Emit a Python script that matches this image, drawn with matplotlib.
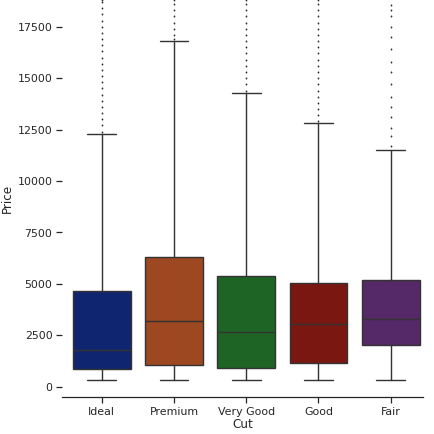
import matplotlib
matplotlib.use("Agg")
import matplotlib.pyplot as plt
import seaborn as sns

cuts = ["Ideal", "Premium", "Very Good", "Good", "Fair"]
whislo = [326, 326, 336, 327, 337]
q1 = [878, 1046, 912, 1145, 2050]
med = [1810, 3185, 2648, 3050, 3282]
q3 = [4678, 6296, 5373, 5028, 5206]
whishi = [12300, 16800, 14300, 12800, 11500]
outliers = [
    [12400, 12700, 13000, 13300, 13600, 13900, 14200, 14500, 14800, 15100, 15400, 15700, 16000, 16300, 16600, 16900, 17200, 17500, 17800, 18100, 18400, 18700, 18800],
    [16900, 17100, 17400, 17700, 18000, 18300, 18600, 18800],
    [14400, 14700, 15000, 15300, 15600, 15900, 16200, 16500, 16800, 17100, 17400, 17700, 18000, 18300, 18600, 18800],
    [12900, 13200, 13500, 13800, 14100, 14400, 14700, 15000, 15300, 15600, 15900, 16200, 16500, 16800, 17100, 17400, 17700, 18000, 18300, 18600, 18800],
    [11700, 12200, 12600, 13100, 13600, 14100, 14700, 15300, 15800, 16400, 17000, 17500, 18000, 18300, 18574],
]

sns.set_theme(style="ticks")
colors = sns.color_palette("dark", desat=0.75)
fig, ax = plt.subplots(figsize=(6, 6), dpi=72.34)
stats = [dict(label=c, whislo=a, q1=b, med=m, q3=d, whishi=e, fliers=f)
         for c, a, b, m, d, e, f in zip(cuts, whislo, q1, med, q3, whishi, outliers)]
lc = "#333333"
bp = ax.bxp(stats, positions=range(5), widths=0.8, patch_artist=True,
            boxprops=dict(edgecolor=lc, linewidth=1.4),
            medianprops=dict(color=lc, linewidth=1.4),
            whiskerprops=dict(color=lc, linewidth=1.4),
            capprops=dict(color=lc, linewidth=1.4),
            flierprops=dict(marker="d", markersize=1.0, markerfacecolor=lc, markeredgecolor=lc))
for p, c in zip(bp["boxes"], colors):
    p.set_facecolor(c)
ax.set_ylim(-500, 18800)
ax.set_yticks(range(0, 17501, 2500))
ax.set_xlabel("Cut", labelpad=1)
ax.set_ylabel("Price")
sns.despine(ax=ax, left=True)
ax.set_xlim(-0.55, 4.45)
fig.subplots_adjust(left=0.143, right=0.975, top=1.0, bottom=0.085)
fig.savefig("out.png")
